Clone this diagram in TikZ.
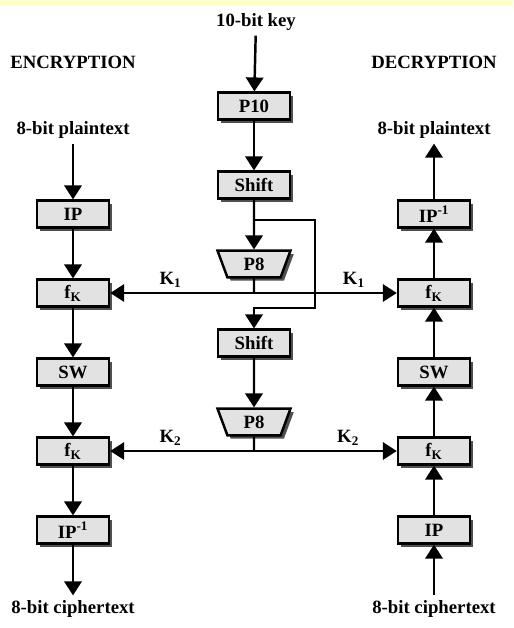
\documentclass[tikz,border=0pt]{standalone}
\usepackage{fontspec}
\setmainfont{Liberation Serif}
\usetikzlibrary{arrows.meta,shapes.geometric,shadows}
\definecolor{boxgray}{RGB}{226,226,226}
\definecolor{shadowgray}{RGB}{80,80,80}
\definecolor{bandyellow}{RGB}{255,255,204}

\begin{document}
\begin{tikzpicture}[x=0.03cm,y=-0.03cm,node distance=2.37cm,
    >={Triangle[width=0.52cm,length=0.42cm]},line width=2.1pt,
    font=\fontsize{16}{18}\selectfont\bfseries]
  \tikzset{blk/.style={rectangle,draw,fill=boxgray,minimum width=2.16cm,
      minimum height=0.8cm,inner sep=0pt,
      drop shadow={shadow xshift=0.1cm,shadow yshift=-0.1cm,fill=shadowgray,opacity=1}},
    perm/.style={trapezium,shape border rotate=180,trapezium stretches=true,
      trapezium angle=73,draw,fill=boxgray,minimum width=2.19cm,
      minimum height=0.8cm,inner sep=0pt,
      drop shadow={shadow xshift=0.1cm,shadow yshift=-0.1cm,fill=shadowgray,opacity=1}}}

  \useasboundingbox (0,0) rectangle (513,628);
  \fill[bandyellow] (0,0) rectangle (513,6);

  % titles
  \node (key)  at (256,22)  {10-bit key};
  \node (enc)  at (73,62)   {ENCRYPTION};
  \node (dec)  at (434,62)  {DECRYPTION};
  \node (ptL)  at (73,130)  {8-bit plaintext};
  \node (ptR)  at (434,130) {8-bit plaintext};
  \node (ctL)  at (73,609)  {8-bit ciphertext};
  \node (ctR)  at (434,609) {8-bit ciphertext};

  % key generation
  \node[blk]  (P10)    at (254,106)         {P10};
  \node[blk]  (shiftA) [below of=P10]       {Shift};
  \node[perm] (P8a)    [below of=shiftA]    {P8};
  \node[blk]  (shiftB) [below of=P8a]       {Shift};
  \node[perm] (P8b)    [below of=shiftB]    {P8};

  % encryption
  \node[blk] (ipL)   at (73,214)         {IP};
  \node[blk] (fkL1)  [below of=ipL]      {f\textsubscript{K}};
  \node[blk] (swL)   [below of=fkL1]     {SW};
  \node[blk] (fkL2)  [below of=swL]      {f\textsubscript{K}};
  \node[blk] (ipiL)  [below of=fkL2]     {IP\textsuperscript{-1}};

  % decryption
  \node[blk] (ipiR)  at (434,214)        {IP\textsuperscript{-1}};
  \node[blk] (fkR1)  [below of=ipiR]     {f\textsubscript{K}};
  \node[blk] (swR)   [below of=fkR1]     {SW};
  \node[blk] (fkR2)  [below of=swR]      {f\textsubscript{K}};
  \node[blk] (ipR)   [below of=fkR2]     {IP};

  \coordinate (brA) at (254,220);
  \coordinate (brB) at (315,308);

  \draw[->] (key) -- (P10);
  \draw[->] (P10) -- (shiftA);
  \draw[->] (shiftA) -- (P8a);
  \draw[->] (brA) -| (brB) -| (shiftB.north);
  \draw[->] (shiftB) -- (P8b);

  \draw[->] (ptL) -- (ipL);
  \draw[->] (ipL) -- (fkL1);
  \draw[->] (fkL1) -- (swL);
  \draw[->] (swL) -- (fkL2);
  \draw[->] (fkL2) -- (ipiL);
  \draw[->] (ipiL) -- (ctL);

  \draw[->] (ctR) -- (ipR);
  \draw[->] (ipR) -- (fkR2);
  \draw[->] (fkR2) -- (swR);
  \draw[->] (swR) -- (fkR1);
  \draw[->] (fkR1) -- (ipiR);
  \draw[->] (ipiR) -- (ptR);

  % subkeys
  \draw[<->] (fkL1) -- node[pos=0.21,above] (k1L) {K\textsubscript{1}}
                       node[pos=0.85,above] (k1R) {K\textsubscript{1}} (fkR1);
  \draw (P8a) -- (P8a |- fkL1);
  \draw[<->] (fkL2) -- node[pos=0.21,above] (k2L) {K\textsubscript{2}}
                       node[pos=0.83,above] (k2R) {K\textsubscript{2}} (fkR2);
  \draw (P8b) -- (P8b |- fkL2);
\end{tikzpicture}
\end{document}
